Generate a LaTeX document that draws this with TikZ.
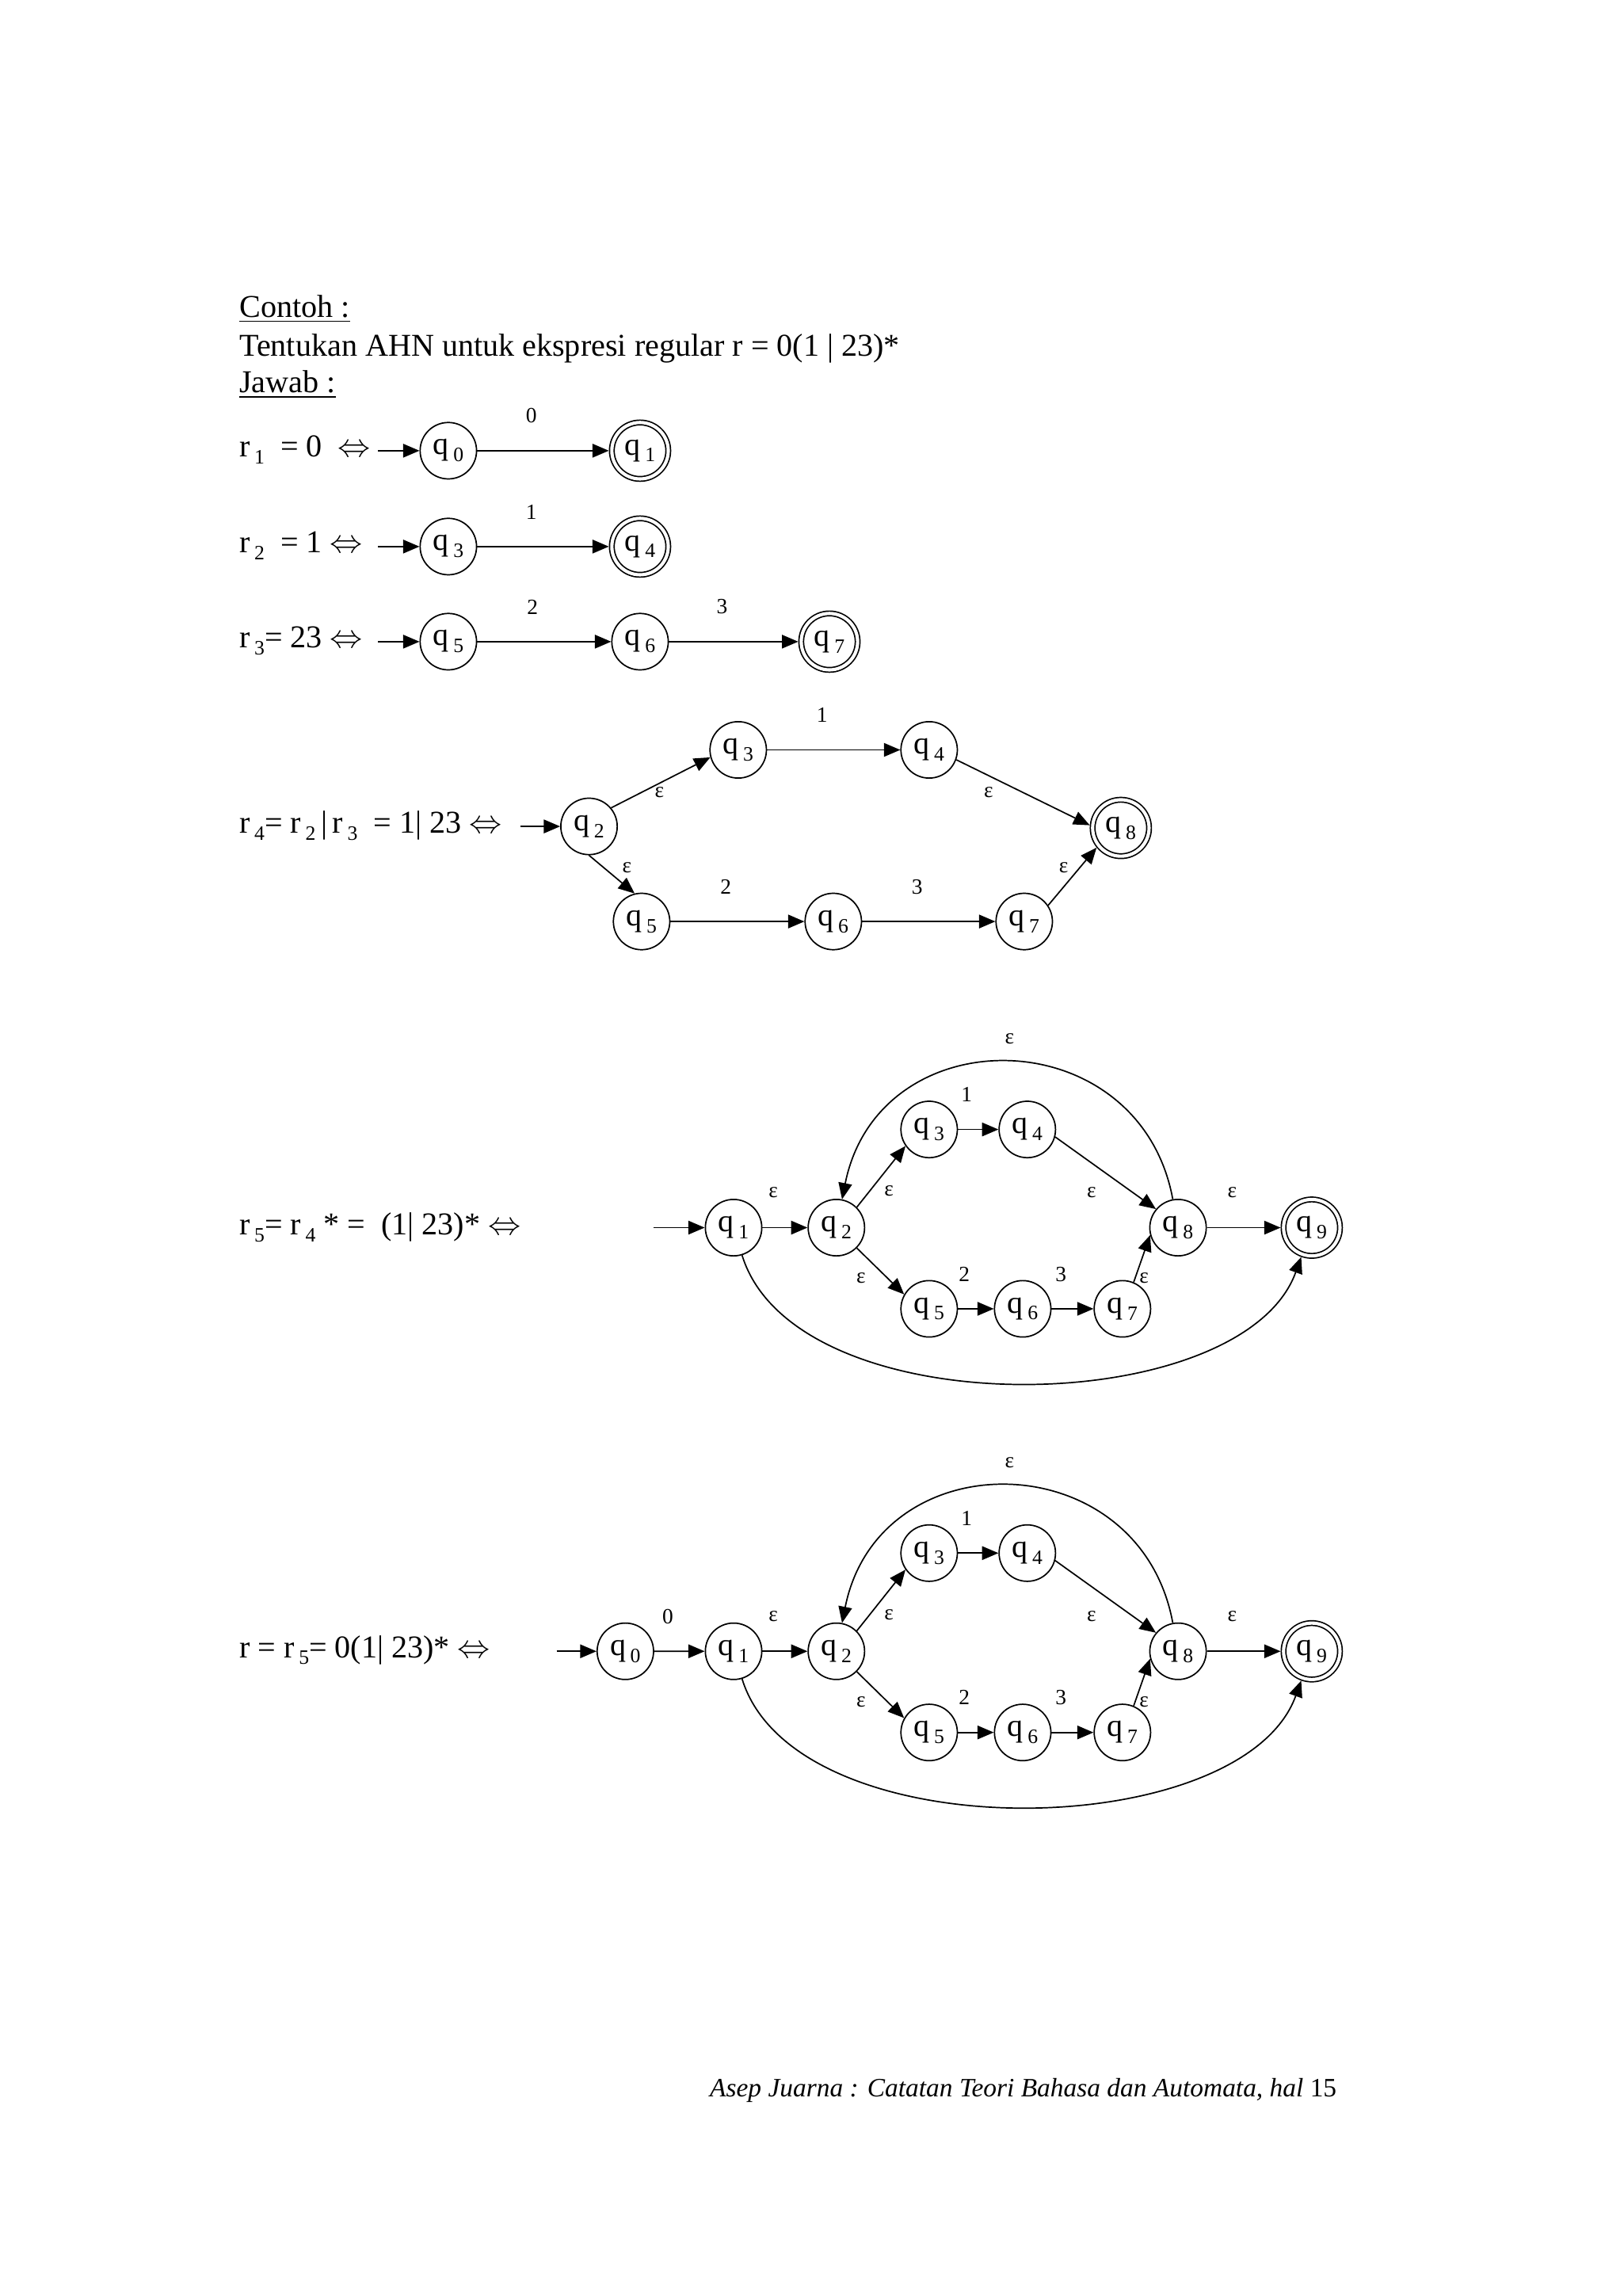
\documentclass[tikz,border=0pt]{standalone}
\usepackage{fontspec}
\setmainfont{Liberation Serif}
\usepackage{tikz}
\usetikzlibrary{
    arrows.meta,
    calc,
    positioning
}
\newcommand{\subx}[1]{\kern1.6pt\raisebox{-2.6pt}{\fontsize{7.5}{7.5}\selectfont #1}}

\begin{document}
\begin{tikzpicture}[>={Triangle[length=6pt,width=5pt]}, line width=0.5pt, line join=round]
  \def\rr{0.73}     % state diameter
  \def\dy{5.48}     % vertical shift between the two last automata

  \tikzset{
    qstate/.style={draw, circle, minimum size=\rr cm, inner sep=0pt,
      font=\fontsize{11.7}{12}\selectfont},
    qfinal/.style={qstate, double, double distance=1.2pt, outer sep=1.1pt},
    txt/.style={anchor=base west, inner sep=0pt, font=\fontsize{11.7}{14}\selectfont},
    lbl/.style={inner sep=0pt, font=\fontsize{8}{8}\selectfont},
    lblup/.style={lbl, midway, xshift=-0.15cm, yshift=0.45cm}
  }

  \useasboundingbox (0,0) rectangle (21,-29.7);

  % Heading
  \node[txt] (head) at (3.09,-4.10) {\underline{Contoh :}};
  \node[txt] (task) at (3.09,-4.61) {Tentukan AHN untuk ekspresi regular r = 0(1 | 23)*};
  \node[txt] (answ) at (3.09,-5.08) {\underline{Jawab :}};

  % r1
  \node[txt] (t1) at (3.09,-5.91) {r\subx{1} ~= 0 ~$\Leftrightarrow$};
  \node[qstate] (a0) at (5.80,-5.83) {q\subx{0}};
  \node[qfinal] (a1) at (8.28,-5.83) {q\subx{1}};
  \coordinate (ia) at (4.89,-5.83);
  \draw[->] (ia) -- (a0);
  \draw[->] (a0) -- node[lblup] {0} (a1);

  % r2
  \node[txt] (t2) at (3.09,-7.15) {r\subx{2} ~= 1 $\Leftrightarrow$};
  \node[qstate] (b3) at (5.80,-7.07) {q\subx{3}};
  \node[qfinal] (b4) at (8.28,-7.07) {q\subx{4}};
  \coordinate (ib) at (4.89,-7.07);
  \draw[->] (ib) -- (b3);
  \draw[->] (b3) -- node[lblup] {1} (b4);

  % r3
  \node[txt] (t3) at (3.09,-8.38) {r\subx{3}= 23 $\Leftrightarrow$};
  \node[qstate] (c5) at (5.80,-8.30) {q\subx{5}};
  \node[qstate] (c6) at (8.28,-8.30) {q\subx{6}};
  \node[qfinal] (c7) at (10.73,-8.30) {q\subx{7}};
  \coordinate (ic) at (4.89,-8.30);
  \draw[->] (ic) -- (c5);
  \draw[->] (c5) -- node[lblup] {2} (c6);
  \draw[->] (c6) -- node[lblup] {3} (c7);

  % r4 = r2 | r3
  \node[txt] (t4) at (3.09,-10.78) {r\subx{4}= r\subx{2}\,|\,r\subx{3} ~= 1| 23 $\Leftrightarrow$};
  \node[qstate] (d2) at (7.62,-10.69) {q\subx{2}};
  \node[qstate] (d3) at (9.55,-9.70) {q\subx{3}};
  \node[qstate] (d4) at (12.02,-9.70) {q\subx{4}};
  \node[qfinal] (d8) at (14.50,-10.71) {q\subx{8}};
  \node[qstate] (d5) at (8.30,-11.92) {q\subx{5}};
  \node[qstate] (d6) at (10.78,-11.92) {q\subx{6}};
  \node[qstate] (d7) at (13.25,-11.92) {q\subx{7}};
  \coordinate (id) at (6.73,-10.69);
  \draw[->] (id) -- (d2);
  \draw[->] (d2.40) -- (d3.195);
  \draw[->] (d3) -- node[lblup] {1} (d4);
  \draw[->] (d4.-20) -- (d8.175);
  \draw[->] (d2.-90) -- (d5.104);
  \draw[->] (d5) -- node[lblup] {2} (d6);
  \draw[->] (d6) -- node[lblup] {3} (d7);
  \draw[->] (d7.34) -- (d8.219);
  \node[lbl] (d23) at (8.53,-10.25) {ε};
  \node[lbl] (d48) at (12.79,-10.25) {ε};
  \node[lbl] (d25) at (8.11,-11.22) {ε};
  \node[lbl] (d78) at (13.76,-11.22) {ε};

  % r5 = r4* (e) and r = 0 r5 (f)
  \foreach \s/\sh in {e/0, f/\dy} {
    \begin{scope}[yshift=-\sh cm]
      \node[qstate] (\s1) at (9.49,-15.88) {q\subx{1}};
      \node[qstate] (\s2) at (10.82,-15.88) {q\subx{2}};
      \node[qstate] (\s3) at (12.02,-14.61) {q\subx{3}};
      \node[qstate] (\s4) at (13.29,-14.61) {q\subx{4}};
      \node[qstate] (\s5) at (12.02,-16.93) {q\subx{5}};
      \node[qstate] (\s6) at (13.23,-16.93) {q\subx{6}};
      \node[qstate] (\s7) at (14.52,-16.93) {q\subx{7}};
      \node[qstate] (\s8) at (15.24,-15.88) {q\subx{8}};
      \node[qfinal] (\s9) at (16.97,-15.88) {q\subx{9}};

      \draw[->] (\s1) -- node[lblup] {ε} (\s2);
      \draw[->] (\s2.45) -- (\s3.215);
      \draw[->] (\s3) -- node[lblup] {1} (\s4);
      \draw[->] (\s4.-15) -- (\s8.140);
      \draw[->] (\s2.-45) -- (\s5.150);
      \draw[->] (\s5) -- node[lblup] {2} (\s6);
      \draw[->] (\s6) -- node[lblup] {3} (\s7);
      \draw[->] (\s7.67) -- (\s8.195);
      \draw[->] (\s8) -- node[lblup] {ε} (\s9);

      % back loop and bypass
      \draw[->] (\s8) .. controls +(-0.5,2.7) and +(0.55,2.75) .. (\s2);
      \draw[->] (\s1) .. controls +(0.8,-2.6) and +(-0.9,-2.5) .. (\s9);

      \node[lbl] (\s82) at (13.06,-13.44) {ε};
      \node[lbl] (\s23) at (11.50,-15.41) {ε};
      \node[lbl] (\s48) at (14.12,-15.43) {ε};
      \node[lbl] (\s25) at (11.14,-16.53) {ε};
      \node[lbl] (\s78) at (14.80,-16.53) {ε};
    \end{scope}
  }

  % r5 text and start
  \node[txt] (t5) at (3.09,-15.97) {r\subx{5}= r\subx{4} * = ~(1| 23)* $\Leftrightarrow$};
  \coordinate (ie) at (8.45,-15.88);
  \draw[->] (ie) -- (e1);

  % r text, q0 and start
  \node[txt] (t6) at (3.09,-21.44) {r = r\subx{5}= 0(1| 23)* $\Leftrightarrow$};
  \node[qstate] (f0) at (8.09,-21.36) {q\subx{0}};
  \coordinate (if) at (7.20,-21.36);
  \draw[->] (if) -- (f0);
  \draw[->] (f0) -- node[lblup] {0} (f1);

  % footer
  \node[anchor=base east, inner sep=0pt, font=\fontsize{9.75}{12}\selectfont] (foot)
    at (17.30,-27.12) {\textit{Asep Juarna : Catatan Teori Bahasa dan Automata, hal} 15};

\end{tikzpicture}
\end{document}
